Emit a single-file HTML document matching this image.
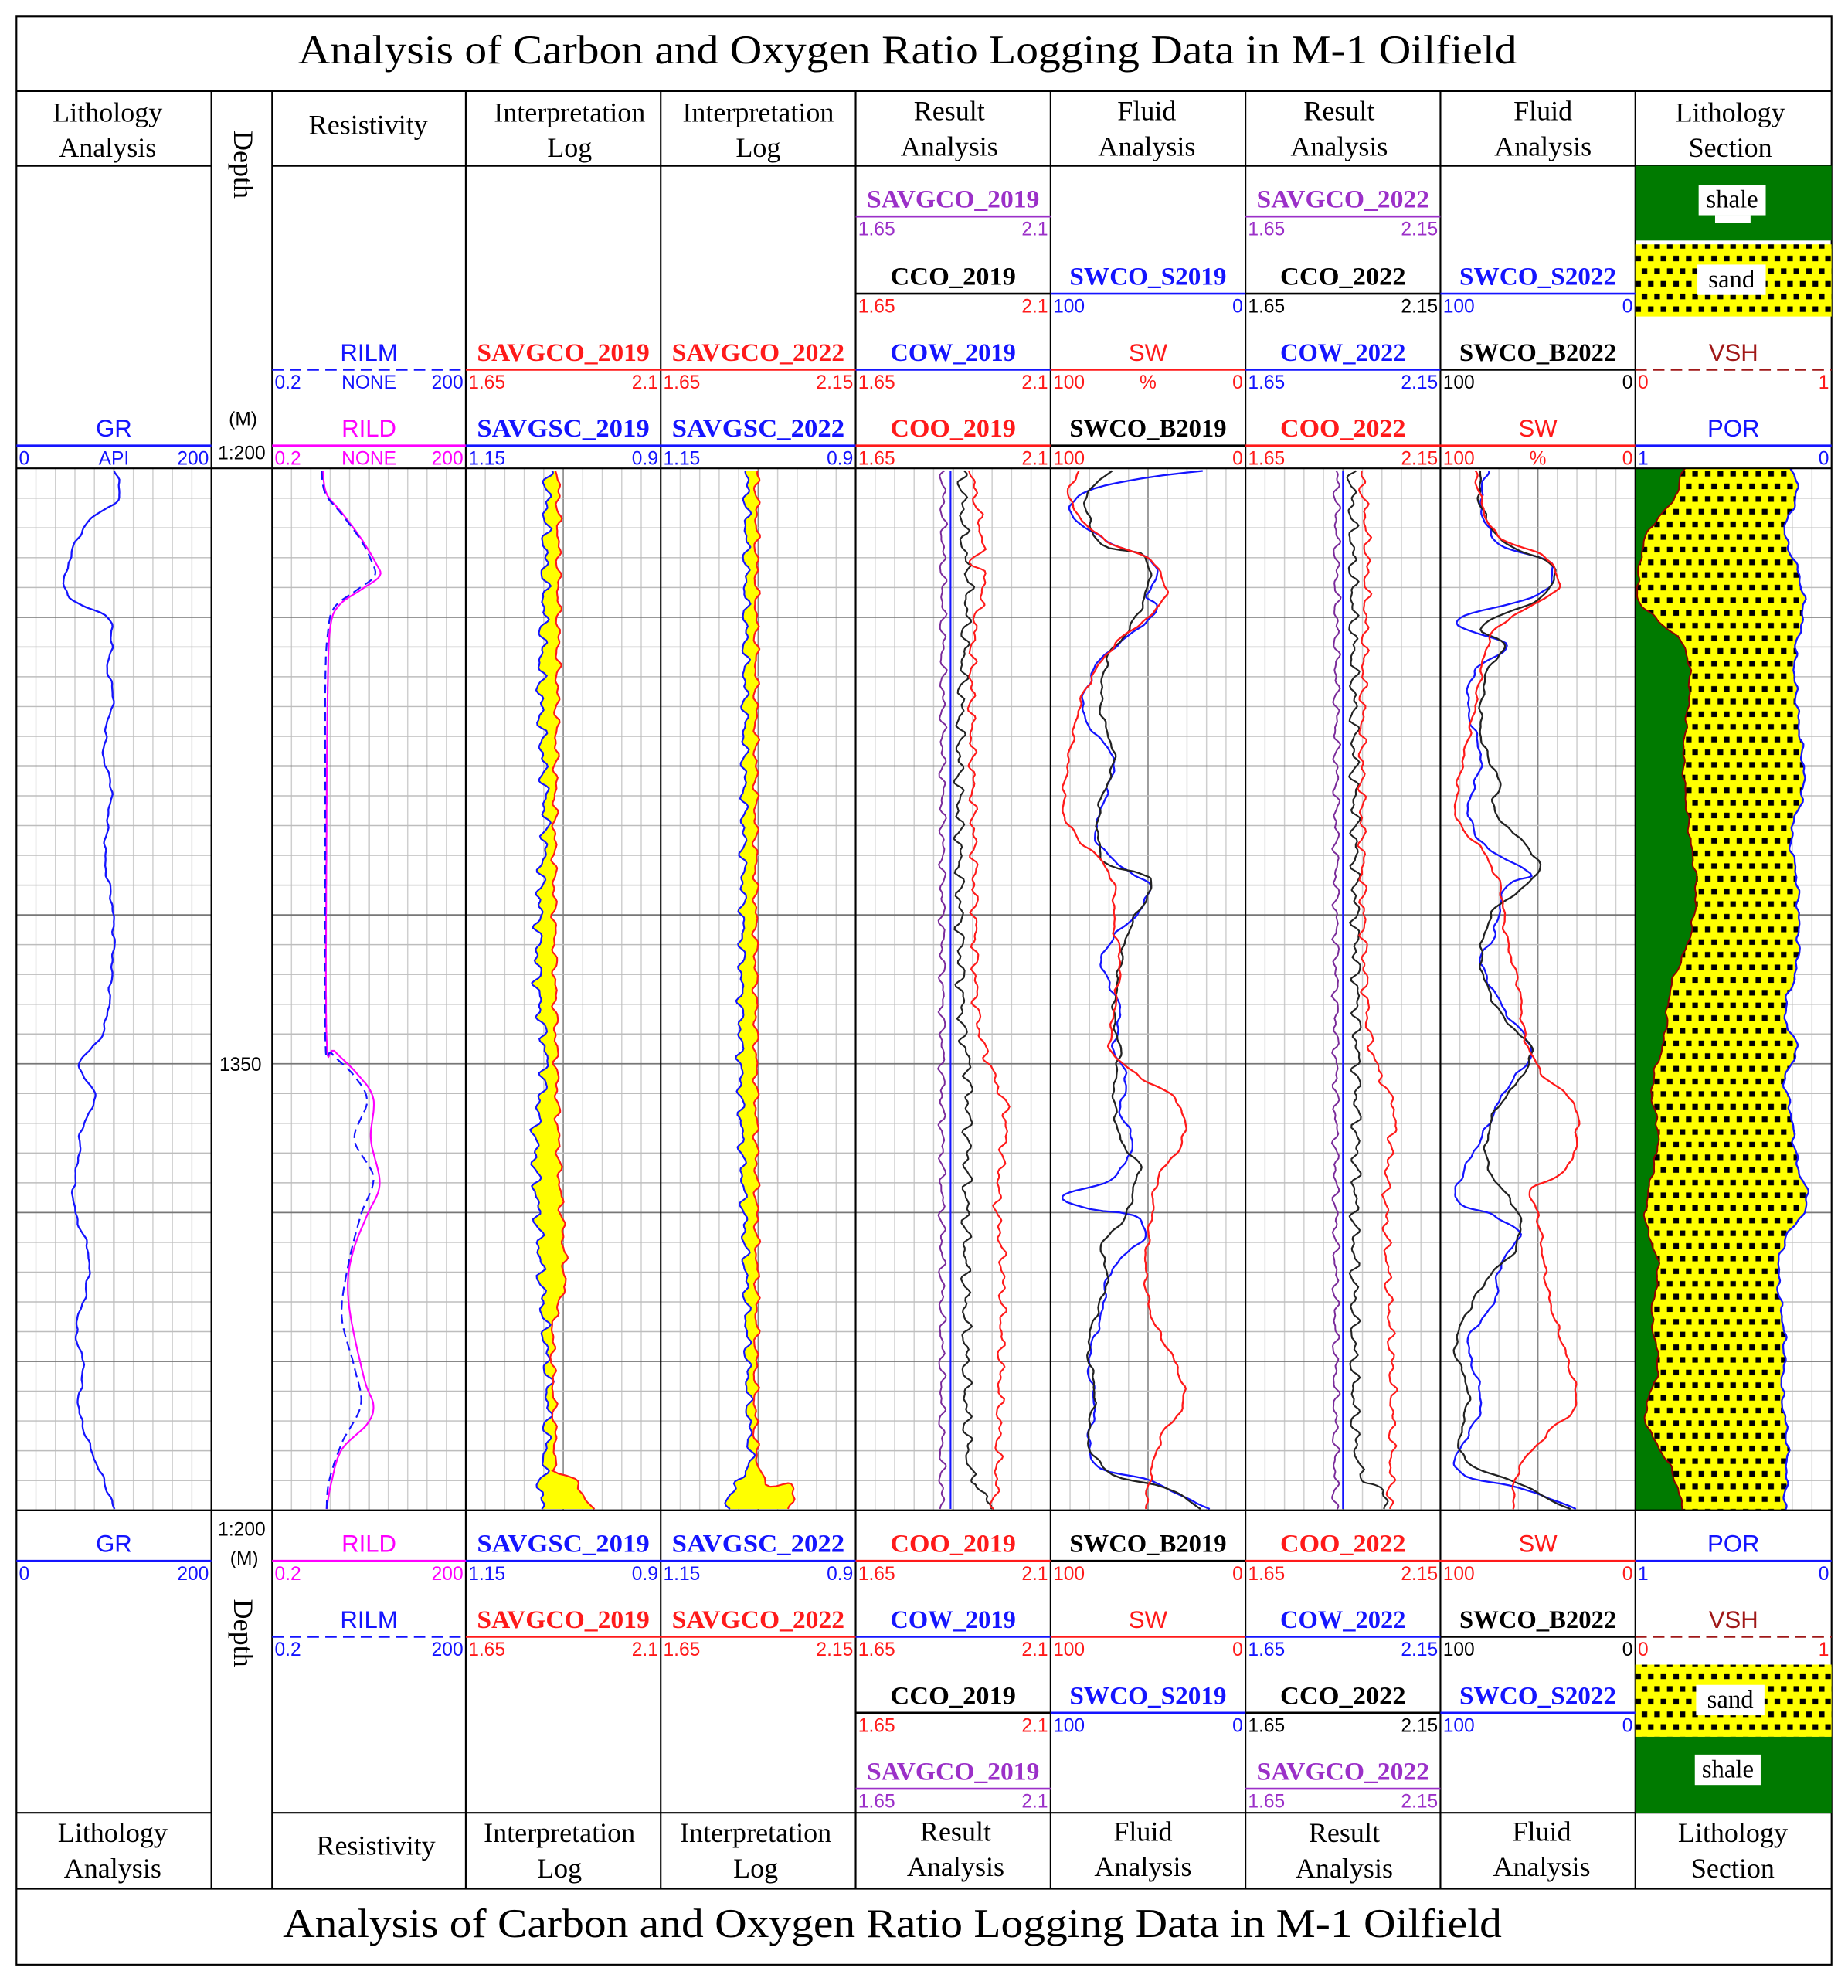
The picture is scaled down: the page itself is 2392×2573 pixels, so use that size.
<!DOCTYPE html>
<html><head><meta charset="utf-8"><style>html,body{margin:0;padding:0;background:#fff}svg{display:block}</style></head>
<body>
<svg id="s" xmlns="http://www.w3.org/2000/svg" width="2392" height="2573" viewBox="0 0 1460 1570.4" preserveAspectRatio="none">
<defs>
<pattern id="sand" patternUnits="userSpaceOnUse" width="10" height="20">
<rect width="10" height="20" fill="#ffff00"/>
<rect x="2" y="2" width="4.4" height="4.4" fill="#000"/>
<rect x="7" y="12" width="4.4" height="4.4" fill="#000"/>
<rect x="-3" y="12" width="4.4" height="4.4" fill="#000"/>
</pattern>
</defs>
<g id="grid"></g>
<g id="curves"></g>
<g id="frame" fill="none" stroke="#000" stroke-width="1.3">
<rect x="13" y="13" width="1434" height="1539"/>
<line x1="13" y1="72" x2="1447" y2="72"/>
<line x1="13" y1="131" x2="167" y2="131"/>
<line x1="215" y1="131" x2="1447" y2="131"/>
<line x1="13" y1="370" x2="1447" y2="370"/>
<line x1="13" y1="1193" x2="1447" y2="1193"/>
<line x1="13" y1="1432" x2="167" y2="1432"/>
<line x1="215" y1="1432" x2="1447" y2="1432"/>
<line x1="13" y1="1492" x2="1447" y2="1492"/>
<line x1="167" y1="72" x2="167" y2="1492"/>
<line x1="215" y1="72" x2="215" y2="1492"/>
<line x1="368" y1="72" x2="368" y2="1492"/>
<line x1="522" y1="72" x2="522" y2="1492"/>
<line x1="676" y1="72" x2="676" y2="1492"/>
<line x1="830" y1="72" x2="830" y2="1492"/>
<line x1="984" y1="72" x2="984" y2="1492"/>
<line x1="1138" y1="72" x2="1138" y2="1492"/>
<line x1="1292" y1="72" x2="1292" y2="1492"/>
</g>
<g id="txt" font-family="Liberation Serif, serif" fill="#000" text-anchor="middle">
<text x="717" y="50" font-size="32" textLength="963" lengthAdjust="spacingAndGlyphs">Analysis of Carbon and Oxygen Ratio Logging Data in M-1 Oilfield</text>
<text x="705" y="1530" font-size="32" textLength="963" lengthAdjust="spacingAndGlyphs">Analysis of Carbon and Oxygen Ratio Logging Data in M-1 Oilfield</text>
</g>
<g id="hdr"></g>
</svg>
<script>
(function(){
var NS="http://www.w3.org/2000/svg";
function el(p,tag,a,txt){var e=document.createElementNS(NS,tag);for(var k in a)e.setAttribute(k,a[k]);if(txt!=null)e.textContent=txt;p.appendChild(e);return e;}
var G=document.getElementById('grid'),C=document.getElementById('curves'),H=document.getElementById('hdr'),T=document.getElementById('txt');
var X=[13,167,215,368,522,676,830,984,1138,1292,1447];
var top=370,bot=1193,dy=(bot-top)/35;
[0,2,3,4,5,6,7,8,9].forEach(function(i){
 var a=X[i],b=X[i+1],w=(b-a)/10;
 for(var k=1;k<10;k++){el(G,'line',{x1:a+k*w,x2:a+k*w,y1:top,y2:bot,stroke:k==5?'#888':'#cfcfcf','stroke-width':k==5?1:0.9});}
 for(var j=1;j<35;j++){var y=top+j*dy;el(G,'line',{x1:a,x2:b,y1:y,y2:y,stroke:j%5==0?'#777':'#bdbdbd','stroke-width':j%5==0?1.1:0.9});}
});
function spline(P){var out=[];for(var i=0;i<P.length-1;i++){var p0=P[Math.max(0,i-1)],p1=P[i],p2=P[i+1],p3=P[Math.min(P.length-1,i+2)];
 var n=Math.max(2,Math.round((p2[1]-p1[1])/2));
 for(var t=0;t<n;t++){var s=t/n,s2=s*s,s3=s2*s;
  var x=0.5*((2*p1[0])+(-p0[0]+p2[0])*s+(2*p0[0]-5*p1[0]+4*p2[0]-p3[0])*s2+(-p0[0]+3*p1[0]-3*p2[0]+p3[0])*s3);
  var y=0.5*((2*p1[1])+(-p0[1]+p2[1])*s+(2*p0[1]-5*p1[1]+4*p2[1]-p3[1])*s2+(-p0[1]+3*p1[1]-3*p2[1]+p3[1])*s3);
  out.push([x,y]);}}
 out.push(P[P.length-1]);return out;}
function noisy(P,amp,seed){var pts=spline(P);return pts.map(function(p){var y=p[1];
 var n=amp*(Math.sin(y*0.27+seed)+0.6*Math.sin(y*0.43+2*seed)+0.4*Math.sin(y*0.71+3*seed))/2;return [p[0]+n,y];});}
function d(pts){return 'M'+pts.map(function(p){return p[0].toFixed(1)+' '+p[1].toFixed(1);}).join('L');}
function line(pts,col,w,dash){var a={d:d(pts),fill:'none',stroke:col,'stroke-width':w||1.3,'stroke-linejoin':'round'};if(dash)a['stroke-dasharray']=dash;el(C,'path',a);}
line(noisy([[90,372],[95,385],[91,397],[73,409],[60,428],[51,458],[53,470],[65,478],[83,486],[88,495],[88,510],[85,530],[90,550],[85,570],[82,600],[88,620],[85,650],[83,680],[88,710],[90,740],[88,770],[85,800],[78,822],[62,840],[70,855],[75,870],[65,890],[62,915],[58,940],[60,960],[70,990],[68,1020],[60,1050],[66,1080],[62,1110],[70,1140],[78,1160],[86,1180],[90,1192]],1.5,1),'#1414ff',1.4);
line(spline([[255,372],[258,390],[270,405],[285,425],[297,445],[300,455],[285,466],[268,478],[261,495],[259,540],[258,650],[258,820],[264,830],[282,848],[295,868],[293,900],[300,935],[290,960],[280,985],[275,1010],[277,1040],[288,1090],[295,1110],[290,1125],[270,1145],[262,1170],[258,1192]]),'#ff00ff',1.3);
line(spline([[254,372],[257,390],[269,405],[284,425],[293,442],[296,455],[282,466],[264,480],[259,500],[257,540],[257,650],[257,820],[262,832],[280,850],[290,870],[280,900],[295,930],[285,960],[275,1000],[270,1040],[280,1080],[285,1110],[270,1140],[260,1170],[258,1192]]),'#1414ff',1.3,'7 4');
function fillPair(B,R,ab,ar,sb,sr){var b=noisy(B,ab,sb),r=noisy(R,ar,sr);
 var poly=b.concat(r.slice().reverse());
 el(C,'path',{d:d(poly)+'Z',fill:'#ffff00',stroke:'none'});
 line(b,'#1414ff',1.3);line(r,'#ff1a1a',1.3);}
fillPair([[433,372],[431,420],[430,480],[427,550],[431,650],[427,700],[425,780],[431,840],[423,900],[427,1000],[431,1060],[433,1100],[431,1150],[429,1162],[427,1175],[428,1192]],
 [[441,372],[441,500],[438,700],[441,900],[446,1010],[437,1050],[439,1150],[438,1162],[455,1168],[458,1180],[472,1192]],5,3,2,4);
fillPair([[590,372],[589,500],[587,700],[585,850],[589,1000],[591,1100],[592,1158],[580,1172],[575,1192]],
 [[598,372],[597,700],[598,1000],[599,1158],[625,1172],[628,1180],[622,1192]],4,3,5,7);
line([[751,372],[751,1192]],'#1414ff',1.3);
line(noisy([[745,372],[744,1192]],3.5,3),'#7a2a9a',1.2);
line(noisy([[760,372],[762,440],[765,460],[758,600],[760,800],[765,850],[763,1000],[765,1150],[775,1175],[782,1192]],5,8),'#222',1.3);
line(noisy([[767,372],[776,430],[768,445],[778,460],[768,520],[770,700],[772,800],[785,850],[795,880],[788,950],[792,1000],[790,1100],[788,1160],[785,1192]],4,11),'#ff1a1a',1.3);
line([[1061,372],[1061,1192]],'#1414ff',1.3);
line(noisy([[1056,372],[1055,1192]],3.5,6),'#7a2a9a',1.2);
line(noisy([[1068,372],[1070,600],[1072,850],[1070,1000],[1072,1150],[1090,1175],[1095,1192]],5,9),'#222',1.3);
line(noisy([[1075,372],[1080,440],[1076,600],[1080,800],[1095,860],[1102,880],[1095,950],[1100,1100],[1098,1192]],4,13),'#ff1a1a',1.3);
line(noisy([[950,372],[900,378],[860,388],[845,400],[855,415],[880,430],[905,440],[915,455],[905,470],[915,480],[895,500],[870,520],[860,540],[855,560],[865,580],[880,600],[870,640],[865,660],[880,680],[895,690],[908,700],[900,720],[880,740],[870,760],[878,780],[885,800],[880,830],[890,850],[885,880],[895,900],[880,930],[840,945],[860,955],[895,960],[905,975],[885,995],[875,1010],[870,1040],[860,1075],[865,1110],[860,1140],[870,1160],[910,1170],[940,1185],[955,1192]],2,1),'#1414ff',1.4);
line(noisy([[880,372],[862,385],[858,400],[870,430],[905,440],[905,470],[890,500],[875,520],[870,560],[880,600],[868,640],[872,680],[900,690],[910,700],[890,740],[880,800],[885,830],[880,860],[885,900],[900,920],[895,940],[890,960],[870,985],[875,1010],[860,1060],[865,1100],[860,1140],[880,1165],[920,1175],[950,1192]],2,4),'#222',1.4);
line(noisy([[852,372],[845,395],[870,425],[905,440],[920,460],[915,480],[880,510],[860,540],[850,570],[840,635],[850,660],[870,680],[880,700],[880,730],[885,760],[880,800],[878,830],[900,850],[930,870],[935,900],[915,930],[910,960],[905,1000],[910,1040],[930,1080],[935,1110],[920,1130],[910,1160],[905,1192]],2,7),'#ff1a1a',1.4);
line(noisy([[1175,372],[1170,400],[1185,430],[1225,445],[1215,470],[1150,490],[1190,510],[1165,530],[1160,560],[1170,600],[1160,640],[1175,670],[1210,690],[1190,700],[1180,740],[1170,760],[1190,800],[1210,830],[1190,860],[1175,890],[1150,945],[1180,960],[1200,975],[1185,1000],[1180,1030],[1160,1060],[1170,1110],[1150,1160],[1200,1175],[1245,1192]],2,2),'#1414ff',1.4);
line(noisy([[1170,372],[1170,400],[1190,430],[1225,445],[1220,470],[1170,495],[1190,510],[1175,530],[1170,580],[1185,620],[1180,640],[1215,680],[1205,700],[1180,720],[1170,760],[1185,800],[1210,830],[1195,860],[1180,880],[1175,920],[1200,960],[1195,990],[1175,1010],[1150,1060],[1160,1100],[1155,1150],[1200,1172],[1240,1192]],2,5),'#222',1.4);
line(noisy([[1165,372],[1180,420],[1220,440],[1230,465],[1190,490],[1175,510],[1165,560],[1150,640],[1170,670],[1185,700],[1190,740],[1200,780],[1205,820],[1220,850],[1245,875],[1240,920],[1210,940],[1215,960],[1220,1000],[1225,1030],[1240,1080],[1245,1110],[1225,1130],[1200,1160],[1195,1192]],2,8),'#ff1a1a',1.4);
var V=noisy([[1330,370],[1322,395],[1302,420],[1295,450],[1295,475],[1310,490],[1330,510],[1335,540],[1330,600],[1335,660],[1340,700],[1335,740],[1320,780],[1315,820],[1305,860],[1310,900],[1300,960],[1310,1000],[1305,1040],[1310,1080],[1300,1120],[1320,1160],[1330,1193]],1.5,3);
var P=noisy([[1415,370],[1420,390],[1410,420],[1420,450],[1425,480],[1418,520],[1420,560],[1425,620],[1415,660],[1420,700],[1420,760],[1410,800],[1420,830],[1410,850],[1415,880],[1420,920],[1428,950],[1410,980],[1405,1010],[1410,1060],[1408,1100],[1412,1140],[1410,1193]],2,6);
el(C,'path',{d:'M1292 370'+d(V).replace('M','L')+'L1292 1193Z',fill:'#007a00',stroke:'none'});
el(C,'path',{d:d(V)+d(P.slice().reverse()).replace('M','L')+'Z',fill:'url(#sand)',stroke:'none'});
line(V,'#8b0000',1.2);line(P,'#1414ff',1.4);
el(H,'rect',{x:1292,y:131,width:155,height:59,fill:'#007a00'});
el(H,'rect',{x:1292,y:193,width:155,height:57,fill:'url(#sand)'});
el(H,'rect',{x:1292,y:1315,width:155,height:57,fill:'url(#sand)'});
el(H,'rect',{x:1292,y:1372,width:155,height:60,fill:'#007a00'});
function lbox(x,y,w,h,t){el(H,'rect',{x:x,y:y,width:w,height:h,fill:'#fff'});el(H,'text',{x:x+w/2,y:y+h-6,'font-size':20,'font-family':'Liberation Serif, serif','text-anchor':'middle'},t);}
lbox(1342,146,53,24,'shale');el(H,'rect',{x:1355,y:170,width:28,height:6,fill:'#fff'});
lbox(1341,209,54,24,'sand');lbox(1340,1331,54,24,'sand');lbox(1339,1386,52,24,'shale');
function two(cx,y1,a,b){el(T,'text',{x:cx,y:y1,'font-size':22},a);if(b)el(T,'text',{x:cx,y:y1+28,'font-size':22},b);}
two(85,96,'Lithology','Analysis');two(291,106,'Resistivity');two(450,96,'Interpretation','Log');two(599,96,'Interpretation','Log');
two(750,95,'Result','Analysis');two(906,95,'Fluid','Analysis');two(1058,95,'Result','Analysis');two(1219,95,'Fluid','Analysis');two(1367,96,'Lithology','Section');
two(89,1455,'Lithology','Analysis');two(297,1465,'Resistivity');two(442,1455,'Interpretation','Log');two(597,1455,'Interpretation','Log');
two(755,1454,'Result','Analysis');two(903,1454,'Fluid','Analysis');two(1062,1455,'Result','Analysis');two(1218,1454,'Fluid','Analysis');two(1369,1455,'Lithology','Section');
el(T,'text',{x:0,y:0,'font-size':22,transform:'translate(185,130) rotate(90)'},'Depth');
el(T,'text',{x:0,y:0,'font-size':22,transform:'translate(185,1290) rotate(90)'},'Depth');
var sans='Liberation Sans Narrow, Liberation Sans, sans-serif';
el(T,'text',{x:192,y:336,'font-size':15,'font-family':sans},'(M)');
el(T,'text',{x:191,y:363,'font-size':15,'font-family':sans},'1:200');
el(T,'text',{x:191,y:1213,'font-size':15,'font-family':sans},'1:200');
el(T,'text',{x:193,y:1236,'font-size':15,'font-family':sans},'(M)');
el(T,'text',{x:190,y:846,'font-size':15,'font-family':sans},'1350');
var PU='#9b30c8',RD='#ff1a1a',BL='#1414ff',MG='#ff00ff',BK='#000',DR='#a01818';
function hd(col,ly,name,serif,ncol,lcol,scol,l,m,r,dash){
 var a=X[col],b=X[col+1],cx=(a+b)/2;
 var att={x:cx,y:ly-7,'font-size':serif?20:19,fill:ncol,'font-family':serif?'Liberation Serif, serif':'Liberation Sans, sans-serif','font-weight':serif?'bold':'normal'};
 if(serif&&name.length>6)att.textLength=Math.min(b-a-14,name.length*12.4),att.lengthAdjust='spacingAndGlyphs';
 el(T,'text',att,name);
 var la={x1:a,x2:b,y1:ly,y2:ly,stroke:lcol,'stroke-width':1.6};if(dash)la['stroke-dasharray']=dash;el(H,'line',la);
 el(T,'text',{x:a+2,y:ly+15,'font-size':15,fill:scol,'font-family':sans,'text-anchor':'start'},l);
 if(m)el(T,'text',{x:cx,y:ly+15,'font-size':15,fill:scol,'font-family':sans},m);
 el(T,'text',{x:b-2,y:ly+15,'font-size':15,fill:scol,'font-family':sans,'text-anchor':'end'},r);
}
function both(rowTop,rowBot,args){hd.apply(null,[args[0],rowTop].concat(args.slice(1)));if(rowBot)hd.apply(null,[args[0],rowBot].concat(args.slice(1)));}
both(171,1413,[5,'SAVGCO_2019',1,PU,PU,PU,'1.65','','2.1']);
both(171,1413,[7,'SAVGCO_2022',1,PU,PU,PU,'1.65','','2.15']);
both(232,1353,[5,'CCO_2019',1,BK,BK,RD,'1.65','','2.1']);
both(232,1353,[6,'SWCO_S2019',1,BL,BL,BL,'100','','0']);
both(232,1353,[7,'CCO_2022',1,BK,BK,BK,'1.65','','2.15']);
both(232,1353,[8,'SWCO_S2022',1,BL,BL,BL,'100','','0']);
hd(2,292,'RILM',0,BL,BL,BL,'0.2','NONE','200','9 5');hd(2,1293,'RILM',0,BL,BL,BL,'0.2','','200','9 5');
both(292,1293,[3,'SAVGCO_2019',1,RD,RD,RD,'1.65','','2.1']);
both(292,1293,[4,'SAVGCO_2022',1,RD,RD,RD,'1.65','','2.15']);
both(292,1293,[5,'COW_2019',1,BL,BL,RD,'1.65','','2.1']);
hd(6,292,'SW',0,RD,RD,RD,'100','%','0');hd(6,1293,'SW',0,RD,RD,RD,'100','','0');
both(292,1293,[7,'COW_2022',1,BL,BL,BL,'1.65','','2.15']);
both(292,1293,[8,'SWCO_B2022',1,BK,BK,BK,'100','','0']);
both(292,1293,[9,'VSH',0,DR,DR,RD,'0','','1','9 5']);
hd(0,352,'GR',0,BL,BL,BL,'0','API','200');hd(0,1233,'GR',0,BL,BL,BL,'0','','200');
hd(2,352,'RILD',0,MG,MG,MG,'0.2','NONE','200');hd(2,1233,'RILD',0,MG,MG,MG,'0.2','','200');
both(352,1233,[3,'SAVGSC_2019',1,BL,BL,BL,'1.15','','0.9']);
both(352,1233,[4,'SAVGSC_2022',1,BL,BL,BL,'1.15','','0.9']);
both(352,1233,[5,'COO_2019',1,RD,RD,RD,'1.65','','2.1']);
both(352,1233,[6,'SWCO_B2019',1,BK,BK,RD,'100','','0']);
both(352,1233,[7,'COO_2022',1,RD,RD,RD,'1.65','','2.15']);
hd(8,352,'SW',0,RD,RD,RD,'100','%','0');hd(8,1233,'SW',0,RD,RD,RD,'100','','0');
both(352,1233,[9,'POR',0,BL,BL,BL,'1','','0']);
})();
</script>
</body></html>
